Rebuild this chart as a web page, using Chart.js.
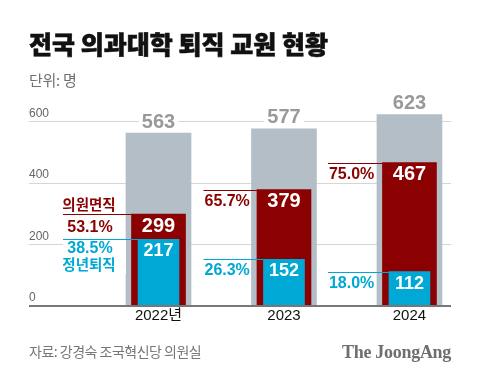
<!DOCTYPE html>
<html>
<head>
<meta charset="utf-8">
<script src="https://cdn.jsdelivr.net/npm/chart.js@4.4.0/dist/chart.umd.min.js"></script>
<style>
  body { margin: 0; background: #fff; }
  #wrap { position: relative; width: 480px; height: 379px; overflow: hidden; font-family: "Noto Sans CJK KR", sans-serif; }
  #c { position: absolute; left: 0; top: 0; }
  .title { position: absolute; left: 29px; top: 30px; font-size: 25px; line-height: 26px; font-weight: 900; color: #111; letter-spacing: 0; white-space: nowrap; -webkit-text-stroke: 0.6px #111; }
  .unit { position: absolute; left: 29px; top: 71px; font-size: 15px; line-height: 17px; color: #707070; letter-spacing: -0.3px; }
  .source { position: absolute; left: 29px; top: 343px; font-size: 14px; line-height: 17px; color: #777; letter-spacing: -0.5px; white-space: nowrap; }
  .logo { position: absolute; right: 29px; top: 342px; font-family: "Liberation Serif", serif; font-weight: bold; font-size: 18px; line-height: 20px; color: #6e6e6e; letter-spacing: -0.3px; }
</style>
</head>
<body>
<div id="wrap">
  <canvas id="c" width="480" height="379"></canvas>
  <div class="title">전국 의과대학 퇴직 교원 현황</div>
  <div class="unit">단위: 명</div>
  <div class="source">자료: 강경숙 조국혁신당 의원실</div>
  <div class="logo">The JoongAng</div>
</div>
<script>
const years = ["2022년", "2023", "2024"];
const totalRetired = [563, 577, 623];
const resigned = [299, 379, 467];
const ageRetired = [217, 152, 112];
const resignedPct = ["53.1%", "65.7%", "75.0%"];
const agePct = ["38.5%", "26.3%", "18.0%"];
const yTicks = [0, 200, 400, 600];

const RED = "#8b0000";
const BLUE = "#00a8d5";
const GRAY = "#b3bec6";
// how far the note lines start left of the total bar
const noteLeft = [63, 48, 49];

const toPoints = arr => arr.map((v, i) => ({ x: i, y: v }));

const notes = {
  id: "notes",
  afterDatasetsDraw(chart) {
    const ctx = chart.ctx;
    const area = chart.chartArea;
    const y0 = chart.scales.y.getPixelForValue(0);
    const gray = chart.getDatasetMeta(0).data;
    const red = chart.getDatasetMeta(1).data;
    const blue = chart.getDatasetMeta(2).data;
    ctx.save();

    // baseline
    ctx.strokeStyle = "#777";
    ctx.lineWidth = 2;
    ctx.beginPath();
    ctx.moveTo(area.left, y0);
    ctx.lineTo(area.right, y0);
    ctx.stroke();

    ctx.textBaseline = "middle";
    for (let i = 0; i < years.length; i++) {
      const g = gray[i], r = red[i], b = blue[i];
      const gLeft = g.x - g.width / 2;
      const x0 = gLeft - noteLeft[i];

      if (i === 0) {
        ctx.fillStyle = "#fff";
        ctx.fillRect(x0, b.y + 1, gLeft - x0, 34);
      }

      ctx.lineWidth = 1;
      ctx.strokeStyle = RED;
      ctx.beginPath();
      ctx.moveTo(x0, Math.round(r.y) + 0.5);
      ctx.lineTo(r.x - r.width / 2, Math.round(r.y) + 0.5);
      ctx.stroke();
      ctx.strokeStyle = BLUE;
      ctx.beginPath();
      ctx.moveTo(x0, Math.round(b.y) + 0.5);
      ctx.lineTo(b.x - b.width / 2, Math.round(b.y) + 0.5);
      ctx.stroke();

      ctx.font = "bold 16px 'Liberation Sans', Arial, sans-serif";
      if (i === 0) {
        const cx = x0 + 27;
        ctx.textAlign = "center";
        ctx.fillStyle = RED;
        ctx.fillText(resignedPct[i], cx, r.y + 13);
        ctx.fillStyle = BLUE;
        ctx.fillText(agePct[i], cx, b.y + 9.5);
        ctx.font = "bold 14.5px 'Noto Sans CJK KR', sans-serif";
        ctx.fillStyle = RED;
        ctx.fillText("의원면직", cx - 1, r.y - 10);
        ctx.fillStyle = BLUE;
        ctx.fillText("정년퇴직", cx - 1, b.y + 25);
      } else {
        ctx.textAlign = "left";
        ctx.fillStyle = RED;
        ctx.fillText(resignedPct[i], x0 + 1, r.y + 12.5);
        ctx.fillStyle = BLUE;
        ctx.fillText(agePct[i], x0 + 1, b.y + 11.5);
      }

      // value labels
      ctx.textAlign = "center";
      ctx.font = "bold 20px 'Liberation Sans', Arial, sans-serif";
      const t = String(totalRetired[i]);
      const w = ctx.measureText(t).width;
      ctx.fillStyle = "#fff";
      ctx.fillRect(g.x - w / 2 - 3, g.y - 20, w + 6, 18);
      ctx.fillStyle = "#999";
      ctx.fillText(t, g.x, g.y - 11);
      ctx.fillStyle = "#fff";
      ctx.fillText(String(resigned[i]), r.x, r.y + 12);
      ctx.font = "bold 18px 'Liberation Sans', Arial, sans-serif";
      ctx.fillText(String(ageRetired[i]), b.x, b.y + 12);
    }
    ctx.restore();
  }
};

const config = {
  type: "bar",
  data: {
    datasets: [
      { label: "전체", data: toPoints(totalRetired), backgroundColor: GRAY, barThickness: 65, order: 3 },
      { label: "의원면직", data: toPoints(resigned), backgroundColor: RED, barThickness: 54, order: 2 },
      { label: "정년퇴직", data: toPoints(ageRetired), backgroundColor: BLUE, barThickness: 41, order: 1 },
    ],
  },
  options: {
    responsive: false,
    animation: false,
    devicePixelRatio: 1,
    datasets: { bar: { grouped: false } },
    layout: { padding: { left: 29, right: 29, top: 91, bottom: 53 } },
    plugins: { legend: { display: false }, tooltip: { enabled: false } },
    scales: {
      x: {
        type: "linear",
        offset: false,
        min: -1.032,
        max: 2.331,
        afterBuildTicks: s => { s.ticks = years.map((_, i) => ({ value: i })); },
        ticks: {
          callback: v => years[v],
          autoSkip: false,
          maxRotation: 0,
          padding: 1,
          color: "#111",
          font: { size: 15, family: "'Liberation Sans', 'Noto Sans CJK KR', sans-serif" },
        },
        grid: { display: false, drawTicks: false },
        border: { display: false },
      },
      y: {
        min: 0,
        max: 700,
        afterBuildTicks: s => { s.ticks = yTicks.map(v => ({ value: v })); },
        ticks: {
          mirror: true,
          padding: 0,
          labelOffset: -8,
          color: "#666",
          font: { size: 12, family: "'Liberation Sans', Arial, sans-serif" },
        },
        grid: { drawTicks: false, color: c => (c.tick.value === 0 ? "rgba(0,0,0,0)" : "#d6d6d6") },
        border: { display: false },
      },
    },
  },
  plugins: [notes],
};

const myChart = new Chart(document.getElementById("c"), config);
</script>
</body>
</html>
